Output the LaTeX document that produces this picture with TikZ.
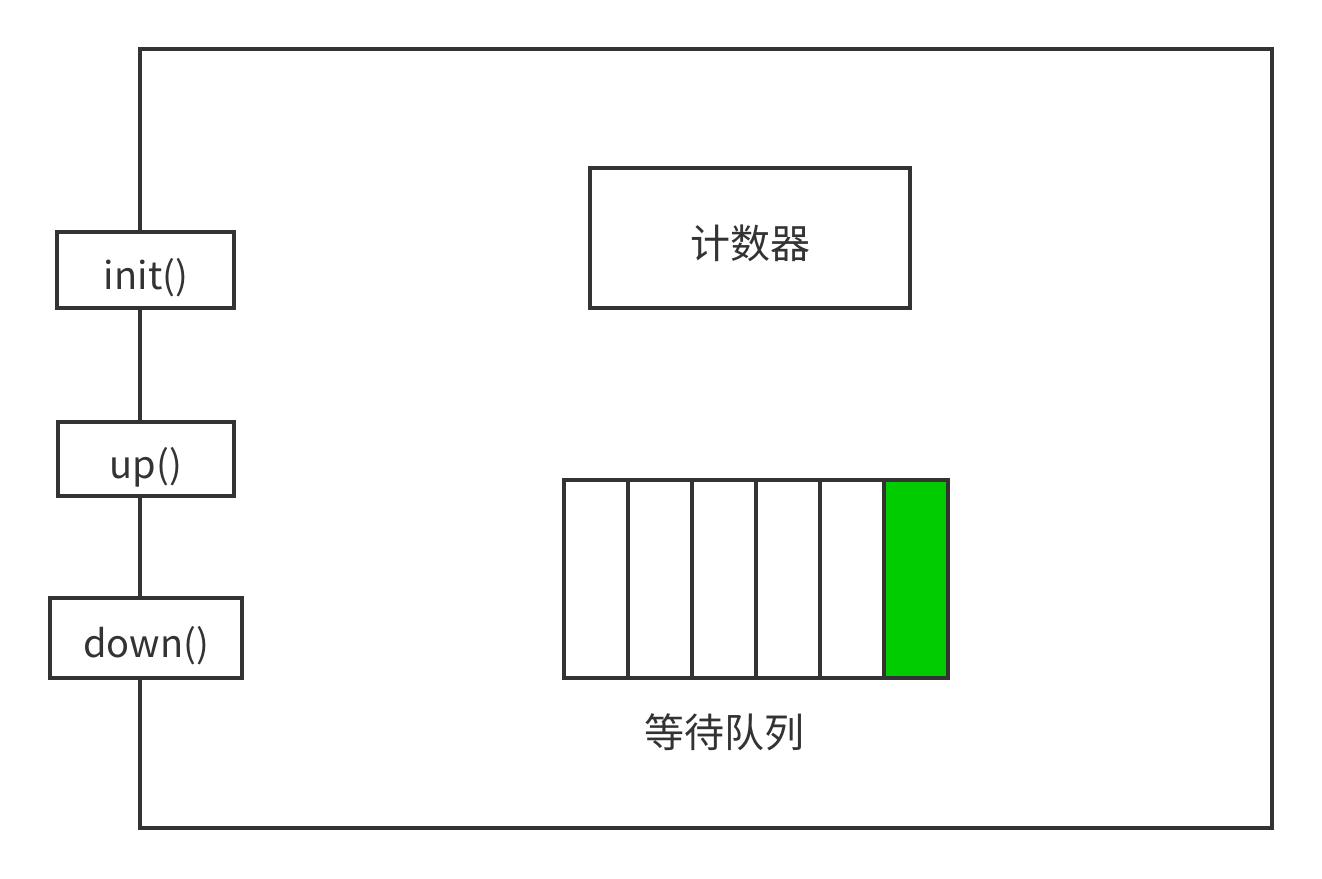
\documentclass[tikz,border=0pt]{standalone}
\usepackage{fontspec}
\setmainfont{Noto Sans CJK SC}
\definecolor{ln}{HTML}{333333}
\definecolor{gr}{HTML}{00CC00}
\begin{document}
\begin{tikzpicture}[x=1pt,y=-1pt,
  box/.style={draw=ln,line width=3.2pt,fill=white,inner sep=0pt},
  lat/.style={text=ln,inner sep=0pt,font=\fontsize{38}{44}\selectfont},
  cjk/.style={text=ln,inner sep=0pt,font=\fontsize{40}{46}\selectfont}]
\useasboundingbox (0,0) rectangle (1322,878);
\draw[ln,line width=3.2pt] (140,49) rectangle (1272,828);
\node[box,minimum width=177pt,minimum height=76pt] (init) at (145.5,270) {};
\node[box,minimum width=176pt,minimum height=74pt] (up) at (146,459) {};
\node[box,minimum width=192pt,minimum height=80pt] (down) at (146,638) {};
\node[box,minimum width=320pt,minimum height=140pt] (cnt) at (750,238) {};
\node[lat] (initT) at (146,278) {init()};
\node[lat] (upT) at (146,467) {up()};
\node[lat] (downT) at (146,646) {down()};
\node[cjk] (cntT) at (750,243) {计数器};
\foreach \i in {0,...,4}{
  \node[box,minimum width=64pt,minimum height=198pt] (q\i) at ({596+64*\i},579) {};
}
\node[box,fill=gr,minimum width=64pt,minimum height=198pt] (q5) at (916,579) {};
\node[cjk] (ql) at (724,732) {等待队列};
\end{tikzpicture}
\end{document}
